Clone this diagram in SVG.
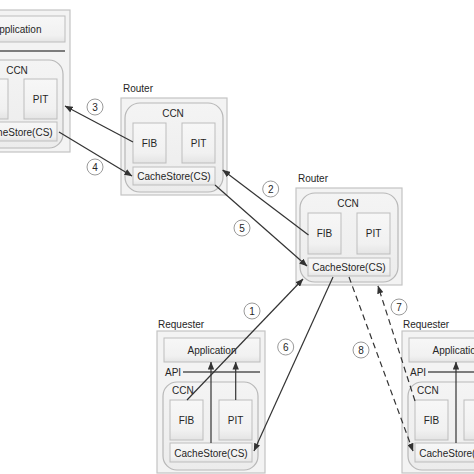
<svg xmlns="http://www.w3.org/2000/svg" width="474" height="474" viewBox="0 0 474 474">
<defs>
<linearGradient id="gBox" x1="0" y1="0" x2="0" y2="1">
<stop offset="0" stop-color="#f7f7f7"/><stop offset="0.75" stop-color="#f1f1f1"/><stop offset="1" stop-color="#e4e4e4"/>
</linearGradient>
<linearGradient id="gCcn" x1="0" y1="0" x2="0" y2="1">
<stop offset="0" stop-color="#f4f4f4"/><stop offset="1" stop-color="#ececec"/>
</linearGradient>
<marker id="ah" viewBox="0 0 10 8" refX="9.5" refY="4" markerWidth="8" markerHeight="6.5" markerUnits="userSpaceOnUse" orient="auto">
<path d="M0,0 L10,4 L0,8 z" fill="#333"/>
</marker>
<style>
.outer{fill:#f3f3f3;stroke:#c4c4c4;stroke-width:1.2}
.ccn{fill:url(#gCcn);stroke:#b8b8b8;stroke-width:1.2}
.box{fill:url(#gBox);stroke:#bdbdbd;stroke-width:1}
.t{font-family:"Liberation Sans",Arial,sans-serif;font-size:10px;fill:#262626}
.c{text-anchor:middle}
.api{stroke:#555;stroke-width:1.3}
.ar{fill:none;stroke:#333;stroke-width:1.2;marker-end:url(#ah)}
.dash{stroke-dasharray:6 4}
.lc{fill:#fff;stroke:#9a9a9a;stroke-width:1}
</style>
</defs>

<g id="requester0" transform="translate(-38,10)">
<rect class="outer" x="0" y="0" width="108" height="142"/>
<rect class="box" x="7" y="6" width="96" height="26"/>
<text class="t c" x="55" y="22.5">Application</text>
<line class="api" x1="24" y1="41" x2="103" y2="41"/>
<rect class="ccn" x="6" y="50" width="95" height="88" rx="14"/>
<text class="t c" x="55" y="64">CCN</text>
<rect class="box" x="13" y="69" width="33" height="40"/>
<rect class="box" x="62" y="69" width="33" height="40"/>
<text class="t c" x="78.5" y="93">PIT</text>
<rect class="box" x="13" y="112" width="82" height="19"/>
<text class="t c" x="54" y="125.5">CacheStore(CS)</text>
</g>

<g id="router1" transform="translate(121,98)">
<text class="t" x="2" y="-6">Router</text>
<rect class="outer" x="0" y="0" width="106" height="97"/>
<rect class="ccn" x="4" y="5" width="98" height="89" rx="15"/>
<text class="t c" x="52" y="18.5">CCN</text>
<rect class="box" x="12" y="25" width="33" height="40"/>
<text class="t c" x="28.5" y="49">FIB</text>
<rect class="box" x="61" y="25" width="33" height="40"/>
<text class="t c" x="77.5" y="49">PIT</text>
<rect class="box" x="12" y="69" width="82" height="18"/>
<text class="t c" x="53" y="81.5">CacheStore(CS)</text>
</g>

<g id="router2" transform="translate(296,188)">
<text class="t" x="2" y="-6">Router</text>
<rect class="outer" x="0" y="0" width="106" height="97"/>
<rect class="ccn" x="4" y="5" width="98" height="89" rx="15"/>
<text class="t c" x="52" y="18.5">CCN</text>
<rect class="box" x="12" y="25" width="33" height="41"/>
<text class="t c" x="28.5" y="49">FIB</text>
<rect class="box" x="61" y="25" width="33" height="41"/>
<text class="t c" x="77.5" y="49">PIT</text>
<rect class="box" x="12" y="70" width="82" height="18"/>
<text class="t c" x="53" y="82.5">CacheStore(CS)</text>
</g>

<g id="requester1" transform="translate(157,331)">
<text class="t" x="1" y="-3">Requester</text>
<rect class="outer" x="0" y="0" width="108" height="142"/>
<rect class="box" x="7" y="7" width="96" height="24"/>
<text class="t c" x="55" y="22.5">Application</text>
<text class="t" x="8" y="44.5">API</text>
<line class="api" x1="26" y1="41" x2="103" y2="41"/>
<rect class="ccn" x="6" y="51" width="95" height="88" rx="14"/>
<text class="t" x="15" y="63">CCN</text>
<rect class="box" x="13" y="69" width="33" height="40"/>
<text class="t c" x="29.5" y="93">FIB</text>
<rect class="box" x="62" y="69" width="33" height="40"/>
<text class="t c" x="78.5" y="93">PIT</text>
<rect class="box" x="13" y="112" width="82" height="19"/>
<text class="t c" x="54" y="125.5">CacheStore(CS)</text>
<line class="ar" x1="54" y1="112" x2="54" y2="31"/>
<line class="ar" x1="78.7" y1="69" x2="78.7" y2="31"/>
</g>

<g id="requester2" transform="translate(402,331)">
<text class="t" x="1" y="-3">Requester</text>
<rect class="outer" x="0" y="0" width="108" height="142"/>
<rect class="box" x="7" y="7" width="96" height="24"/>
<text class="t c" x="55" y="22.5">Application</text>
<text class="t" x="8" y="44.5">API</text>
<line class="api" x1="26" y1="41" x2="103" y2="41"/>
<rect class="ccn" x="6" y="51" width="95" height="88" rx="14"/>
<text class="t" x="15" y="63">CCN</text>
<rect class="box" x="13" y="69" width="33" height="40"/>
<text class="t c" x="29.5" y="93">FIB</text>
<rect class="box" x="62" y="69" width="33" height="40"/>
<rect class="box" x="13" y="112" width="82" height="19"/>
<text class="t c" x="54" y="125.5">CacheStore(CS)</text>
<line class="ar" x1="54" y1="112" x2="54" y2="31"/>
</g>

<g id="connectors">
<line class="ar" x1="187" y1="400" x2="303" y2="279"/>
<line class="ar" x1="308.5" y1="235" x2="222.7" y2="170"/>
<line class="ar" x1="133" y1="142" x2="65" y2="106"/>
<line class="ar" x1="59" y1="132" x2="132" y2="176"/>
<line class="ar" x1="215" y1="185" x2="307" y2="266"/>
<line class="ar" x1="333" y1="277" x2="254" y2="451"/>
<line class="ar dash" x1="415" y1="401" x2="378" y2="286"/>
<line class="ar dash" x1="349" y1="277" x2="413" y2="451"/>
</g>

<g id="labels">
<circle class="lc" cx="252" cy="311" r="8"/><text class="t c" x="252" y="314.5">1</text>
<circle class="lc" cx="270.7" cy="189" r="8"/><text class="t c" x="270.7" y="192.5">2</text>
<circle class="lc" cx="95" cy="107" r="8"/><text class="t c" x="95" y="110.5">3</text>
<circle class="lc" cx="95" cy="167" r="8"/><text class="t c" x="95" y="170.5">4</text>
<circle class="lc" cx="242" cy="228" r="8"/><text class="t c" x="242" y="231.5">5</text>
<circle class="lc" cx="285.7" cy="347" r="8"/><text class="t c" x="285.7" y="350.5">6</text>
<circle class="lc" cx="399" cy="307" r="8"/><text class="t c" x="399" y="310.5">7</text>
<circle class="lc" cx="361" cy="350" r="8"/><text class="t c" x="361" y="353.5">8</text>
</g>
</svg>
